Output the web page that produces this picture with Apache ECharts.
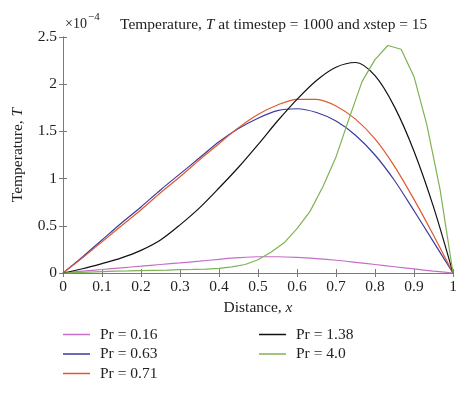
<!DOCTYPE html>
<html>
<head>
<meta charset="utf-8">
<script src="https://cdn.jsdelivr.net/npm/echarts@6/dist/echarts.min.js"></script>
<style>html,body{margin:0;padding:0;background:#fff}#c{width:474px;height:395px}</style>
</head>
<body>
<div id="c"></div>
<script>
// Distance grid (x) for smooth curves
const xs = [0,0.05,0.1,0.15,0.2,0.25,0.3,0.35,0.4,0.45,0.5,0.55,0.6,0.65,0.7,0.75,0.8,0.85,0.9,0.95,1];
// Temperature values (x 1e-4)
const pr016 = [0,0.02,0.037,0.055,0.072,0.09,0.107,0.125,0.145,0.162,0.172,0.172,0.165,0.152,0.135,0.113,0.09,0.066,0.043,0.02,0];
const pr063 = [0,0.17,0.35,0.53,0.70,0.88,1.05,1.22,1.39,1.53,1.64,1.72,1.74,1.70,1.61,1.46,1.25,0.98,0.66,0.33,0];
const pr071 = [0,0.16,0.33,0.50,0.67,0.85,1.02,1.20,1.37,1.54,1.68,1.78,1.84,1.84,1.77,1.63,1.42,1.13,0.78,0.40,0];
const pr138 = [0,0.045,0.10,0.16,0.24,0.35,0.51,0.69,0.90,1.12,1.36,1.61,1.84,2.04,2.18,2.23,2.09,1.76,1.29,0.70,0];
// Pr = 4.0 on a coarser grid
const xsGreen = [0,0.033,0.067,0.1,0.133,0.167,0.2,0.233,0.267,0.3,0.333,0.367,0.4,0.433,0.467,0.5,0.533,0.567,0.6,0.633,0.667,0.7,0.733,0.767,0.8,0.833,0.867,0.9,0.933,0.967,1];
const pr40 = [0,0.005,0.01,0.015,0.02,0.022,0.025,0.028,0.031,0.035,0.038,0.042,0.05,0.065,0.09,0.14,0.22,0.32,0.47,0.65,0.92,1.23,1.63,2.03,2.26,2.41,2.37,2.08,1.57,0.88,0];

const seriesNames = ['Pr = 0.16','Pr = 0.63','Pr = 0.71','Pr = 1.38','Pr = 4.0'];
const seriesColors = ['#c46ec8','#3b3b9e','#e2582e','#111111','#7fb253'];
const xTickLabels = ['0','0.1','0.2','0.3','0.4','0.5','0.6','0.7','0.8','0.9','1'];
const yTickLabels = ['0','0.5','1','1.5','2','2.5'];

const FONT = '"Liberation Serif", "DejaVu Serif", serif';
const FS = 15.5;
const TXT = '#222';
const AX = '#7a7a7a';

function pairs(x, y){ return x.map((v,i)=>[v,y[i]]); }

const chart = echarts.init(document.getElementById('c'), null, {renderer:'canvas'});
const baseX = {
  type:'value', min:0, max:1, interval:0.1,
  axisLine:{show:true, lineStyle:{color:AX, width:1}},
  axisTick:{show:true, inside:true, length:4, lineStyle:{color:AX}},
  splitLine:{show:false}
};
const baseY = {
  type:'value', min:0, max:2.5, interval:0.5,
  axisLine:{show:true, lineStyle:{color:AX, width:1}},
  axisTick:{show:true, inside:true, length:4, lineStyle:{color:AX}},
  splitLine:{show:false}
};
const richName = {a:{fontFamily:FONT,fontSize:FS,color:TXT}, b:{fontFamily:FONT,fontSize:FS,color:TXT,fontStyle:'italic'}};
const legendText = {fontFamily:FONT, fontSize:FS, color:TXT, lineHeight:17, padding:[0,0,0,5]};
const option = {
  backgroundColor:'#fff',
  animation:false,
  grid:{left:63, right:21, top:37, bottom:122, containLabel:false},
  xAxis:[
    Object.assign({}, baseX, {
      position:'bottom',
      name:'{a|Distance, }{b|x}', nameLocation:'middle', nameGap:26,
      nameTextStyle:{fontFamily:FONT, fontSize:FS, color:TXT, rich:richName},
      axisLabel:{show:true, margin:6, fontFamily:FONT, fontSize:FS, color:TXT,
        formatter:(v,i)=>xTickLabels[i]}
    }),
    Object.assign({}, baseX, {position:'top', axisLabel:{show:false}})
  ],
  yAxis:[
    Object.assign({}, baseY, {
      position:'left',
      name:'{a|Temperature, }{b|T}', nameLocation:'middle', nameGap:37, nameRotate:90,
      nameTextStyle:{fontFamily:FONT, fontSize:FS, color:TXT, rich:richName},
      axisLabel:{show:true, margin:6, fontFamily:FONT, fontSize:FS, color:TXT,
        formatter:(v,i)=>yTickLabels[i]}
    }),
    Object.assign({}, baseY, {position:'right', axisLabel:{show:false}})
  ],
  legend:[
    {data:seriesNames.slice(0,3), orient:'vertical', left:63, top:326, padding:0, icon:'rect',
     itemWidth:27, itemHeight:1.5, itemGap:2.5, textStyle:legendText},
    {data:seriesNames.slice(3), orient:'vertical', left:259, top:326, padding:0, icon:'rect',
     itemWidth:27, itemHeight:1.5, itemGap:2.5, textStyle:legendText}
  ],
  graphic:[
    {type:'text', left:120, top:17, style:{
      text:'{a|Temperature, }{b|T}{a| at timestep = 1000 and }{b|x}{a|step = 15}',
      rich:{a:{fontFamily:FONT,fontSize:FS,fill:TXT}, b:{fontFamily:FONT,fontSize:FS,fill:TXT,fontStyle:'italic'}}}, z:10},
    {type:'text', left:65, top:17, style:{text:'×10', fontFamily:FONT, fontSize:14, fill:TXT}},
    {type:'text', left:88, top:12, style:{text:'−4', fontFamily:FONT, fontSize:11, fill:TXT}}
  ],
  series:[
    {name:seriesNames[0], type:'line', data:pairs(xs,pr016), smooth:0.3, showSymbol:false, lineStyle:{width:1.2}, color:seriesColors[0]},
    {name:seriesNames[1], type:'line', data:pairs(xs,pr063), smooth:0.3, showSymbol:false, lineStyle:{width:1.2}, color:seriesColors[1]},
    {name:seriesNames[2], type:'line', data:pairs(xs,pr071), smooth:0.3, showSymbol:false, lineStyle:{width:1.2}, color:seriesColors[2]},
    {name:seriesNames[3], type:'line', data:pairs(xs,pr138), smooth:0.3, showSymbol:false, lineStyle:{width:1.2}, color:seriesColors[3]},
    {name:seriesNames[4], type:'line', data:pairs(xsGreen,pr40), smooth:false, showSymbol:false, lineStyle:{width:1.2}, color:seriesColors[4]}
  ]
};
chart.setOption(option);
</script>
</body>
</html>
